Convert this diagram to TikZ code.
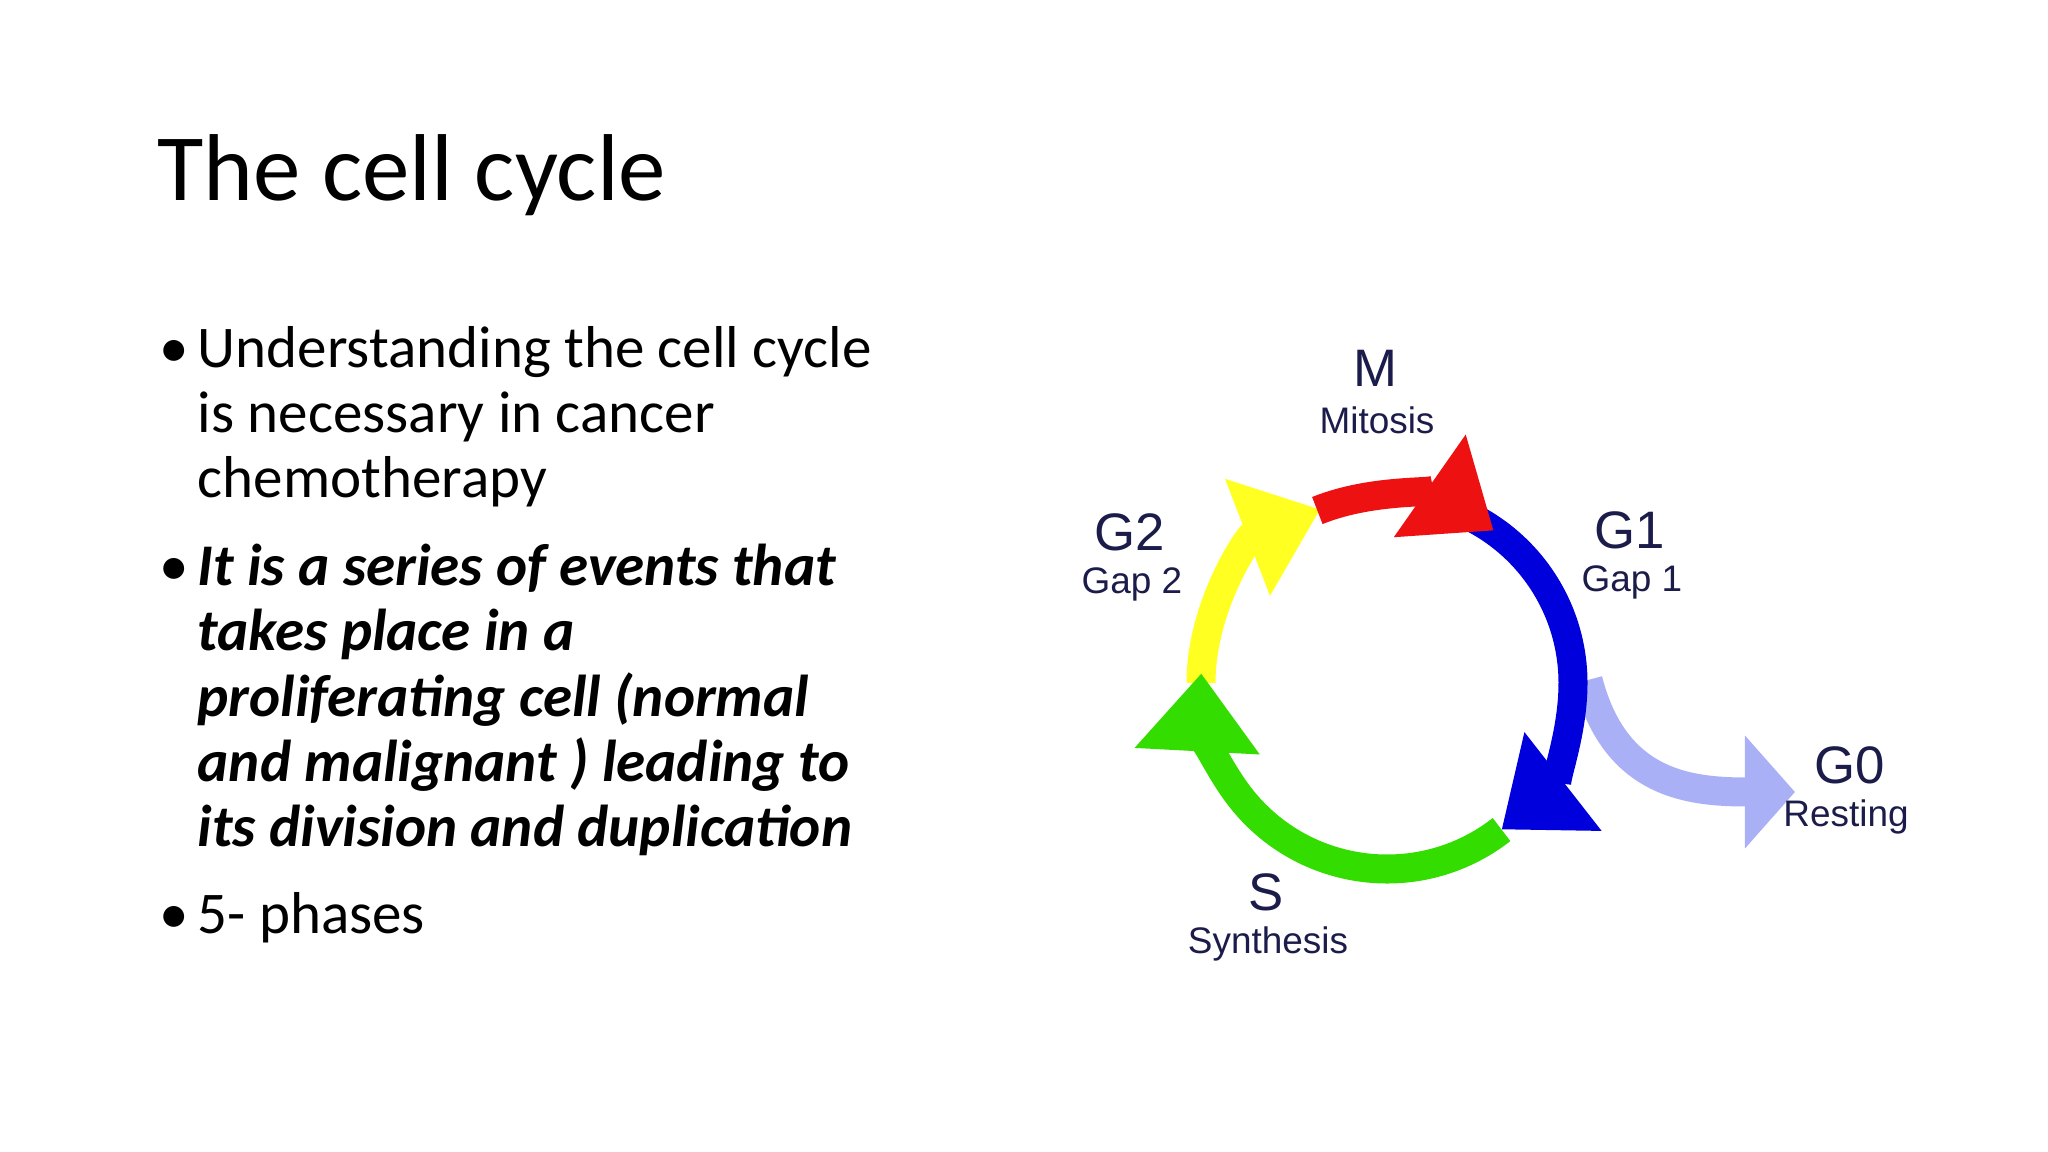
\documentclass[tikz,border=0pt]{standalone}
\usepackage{fontspec}
\setmainfont{Carlito}
\newfontfamily\arialf{Liberation Sans}
\usetikzlibrary{arrows.meta}
\definecolor{lblue}{HTML}{1C1C4A}
\definecolor{cred}{HTML}{EE1111}
\definecolor{cblue}{HTML}{0000DD}
\definecolor{cgreen}{HTML}{33DD00}
\definecolor{cyell}{HTML}{FFFF22}
\definecolor{clav}{HTML}{AAB0F6}
\begin{document}
\begin{tikzpicture}[x=0.01cm,y=-0.01cm,
  band/.style={line width=0.29cm,-{Triangle[width=1.2cm,length=0.78cm]}},
  big/.style={font=\arialf\fontsize{15}{17}\selectfont,text=lblue,inner sep=0},
  small/.style={font=\arialf\fontsize{10.5}{12}\selectfont,text=lblue,inner sep=0},
  body/.style={anchor=base west,inner sep=0,font=\fontsize{16.8}{18.5}\selectfont}]
\useasboundingbox (0,0) rectangle (2048,1152);
\node[anchor=base west,inner sep=0,font=\fontsize{27}{32}\selectfont] (title) at (157,201) {The cell cycle};
% bullets
\node[body] (b1) at (159,368) {\textbullet};
\node[body] (t1a) at (197,368) {Understanding the cell cycle};
\node[body] (t1b) at (197,433) {is necessary in cancer};
\node[body] (t1c) at (197,498) {chemotherapy};
\node[body] (b2) at (159,585) {\textbullet};
\node[body,font=\fontsize{16.8}{18.5}\selectfont\bfseries\itshape] (t2a) at (197,585) {It is a series of events that};
\node[body,font=\fontsize{16.8}{18.5}\selectfont\bfseries\itshape] (t2b) at (197,650) {takes place in a};
\node[body,font=\fontsize{16.8}{18.5}\selectfont\bfseries\itshape] (t2c) at (197,716) {proliferating cell (normal};
\node[body,font=\fontsize{16.8}{18.5}\selectfont\bfseries\itshape] (t2d) at (197,781) {and malignant ) leading to};
\node[body,font=\fontsize{16.8}{18.5}\selectfont\bfseries\itshape] (t2e) at (197,846) {its division and duplication};
\node[body] (b3) at (159,933) {\textbullet};
\node[body] (t3) at (197,933) {5- phases};
% cycle
\coordinate (c) at (1387,683);
\coordinate (g0s) at (1588,680);
\coordinate (g0e) at (1795,792);
\draw[line width=0.29cm,clav,-{Triangle[width=1.1cm,length=0.5cm]}] (g0s) .. controls (1615,785) and (1690,792) .. (g0e);
\draw[band,cyell] ([shift={(-180:186)}]c) arc[start angle=-180,end angle=-111,radius=186];
\draw[band,cgreen] ([shift={(52:186)}]c) arc[start angle=52,end angle=183,radius=186];
\draw[band,cblue] ([shift={(-62:186)}]c) arc[start angle=-62,end angle=52,radius=186];
\draw[band,cred] ([shift={(-112:186)}]c) arc[start angle=-112,end angle=-55,radius=186];
% labels
\node[big] (m) at (1375,368) {M};
\node[small] (mit) at (1377,420) {Mitosis};
\node[big] (g2) at (1130,532) {G2};
\node[small] (gap2) at (1132,584) {Gap 2};
\node[big] (g1) at (1630,530) {G1};
\node[small] (gap1) at (1632,582) {Gap 1};
\node[big] (g0) at (1850,765) {G0};
\node[small] (rest) at (1846,817) {Resting};
\node[big] (s) at (1266,892) {S};
\node[small] (syn) at (1268,944) {Synthesis};
\end{tikzpicture}
\end{document}
